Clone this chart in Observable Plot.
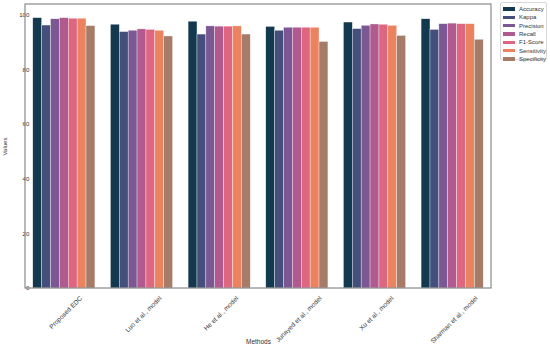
<!DOCTYPE html>
<html><head><meta charset="utf-8">
<script src="https://cdn.jsdelivr.net/npm/d3@7"></script>
<script src="https://cdn.jsdelivr.net/npm/@observablehq/plot@0.6"></script>
<style>
body{margin:0;background:#fff;font-family:"Liberation Sans",Arial,sans-serif;}
#wrap{position:relative;width:550px;height:346px;overflow:hidden;}
#legend{position:absolute;left:500px;top:2px;width:47px;height:58px;border:1px solid #d8d8d8;border-radius:2px;background:#fff;box-sizing:border-box;padding-top:2px;}
#legend .row{display:flex;align-items:center;height:8.3px;font-size:6px;color:#333;white-space:nowrap;}
#legend .sw{width:12px;height:3.5px;margin-left:2px;margin-right:4px;flex:none;}
</style></head>
<body><div id="wrap"></div>
<script>
const methods = ["Proposed EDC","Luo et al., model","He et al., model","Junayed et al., model","Xu et al., model","Sharman et al., model"];
const metrics = ["Accuracy","Kappa","Precision","Recall","F1-Score","Sensitivity","Specificity"];
const accuracy    = [98.9, 96.5, 97.6, 95.7, 97.3, 98.5];
const kappa       = [96.2, 93.8, 92.9, 94.3, 94.9, 94.6];
const precision   = [98.5, 94.3, 95.9, 95.4, 96.1, 96.7];
const recall      = [98.9, 94.8, 95.8, 95.4, 96.6, 96.9];
const f1score     = [98.7, 94.6, 95.8, 95.4, 96.5, 96.7];
const sensitivity = [98.7, 94.3, 95.9, 95.4, 96.1, 96.7];
const specificity = [96.0, 92.2, 92.9, 90.2, 92.4, 91.0];
const colors = ["#12394d","#444f7c","#7b5893","#b05a8f","#de6680","#ec8360","#a67b68"];
const yTicks = [0, 20, 40, 60, 80, 100];

const series = [accuracy, kappa, precision, recall, f1score, sensitivity, specificity];
const data = [];
methods.forEach((m, i) => metrics.forEach((k, j) => data.push({method: m, metric: k, value: series[j][i]})));

const W = 550, H = 346, ml = 25, mr = 59, mt = 4, mb = 58;
const font = "'Liberation Sans', Arial, sans-serif";

const plot = Plot.plot({
  width: W, height: H,
  marginLeft: ml, marginRight: mr, marginTop: mt, marginBottom: mb,
  style: {fontFamily: font, fontSize: "6px", color: "#333", background: "#fff"},
  fx: {domain: methods, paddingInner: 0.2, paddingOuter: 0.1, round: false},
  x: {domain: metrics, padding: 0, round: false, axis: null},
  y: {domain: [0, 103.9]},
  color: {domain: metrics, range: colors},
  marks: [
    Plot.barY(data, {fx: "method", x: "metric", y: "value", fill: "metric", stroke: "white", strokeWidth: 0.5, strokeOpacity: 0.7}),
    Plot.axisY(yTicks, {tickSize: 0, tickPadding: 4, label: "Values", labelArrow: "none", labelAnchor: "center", labelOffset: 31, fontSize: 6}),
    Plot.axisFx({anchor: "bottom", tickSize: 0, tickPadding: 5, tickRotate: -45, label: "Methods", labelArrow: "none", labelAnchor: "center", labelOffset: 55, fontSize: 6.5})
  ]
});

document.getElementById("wrap").appendChild(plot);

// frame around the whole plot area
d3.select(plot).append("rect")
  .attr("x", ml).attr("y", mt)
  .attr("width", W - ml - mr).attr("height", H - mt - mb)
  .attr("fill", "none").attr("stroke", "#8a8a8a").attr("stroke-width", 1.2);

// center the rotated method labels like matplotlib (ha="center")
plot.querySelectorAll('[aria-label="fx-axis tick label"] text').forEach(t => {
  const tr = t.getAttribute("transform") || "";
  const m = tr.match(/translate\(([-\d.]+),\s*([-\d.]+)\)/);
  if (!m) return;
  const L = t.getComputedTextLength();
  const x = +m[1], y = +m[2];
  t.setAttribute("text-anchor", "middle");
  t.setAttribute("dy", "0.32em");
  t.setAttribute("transform", `translate(${x},${y + 0.3536 * (L + 6.5)}) rotate(-45)`);
});

const color = plot.scale("color");
const lg = d3.select("#wrap").append("div").attr("id", "legend");
metrics.forEach(k => {
  const r = lg.append("div").attr("class", "row");
  r.append("div").attr("class", "sw").style("background", color.apply(k));
  r.append("span").text(k);
});
</script>
</body></html>
